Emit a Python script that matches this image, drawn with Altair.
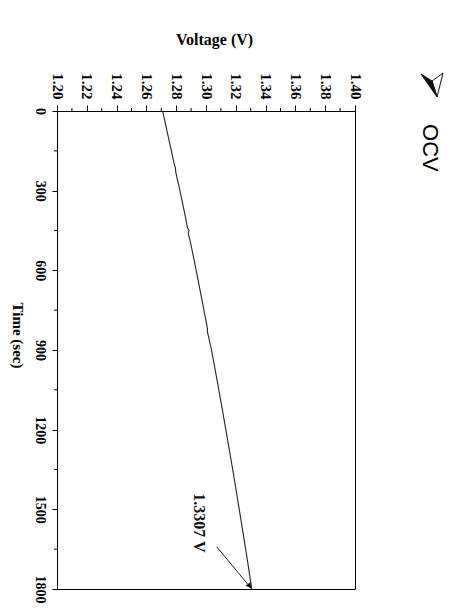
import altair as alt
import pandas as pd

# ---- data ----
time_s = [0, 100, 200, 215, 230, 300, 400, 440, 450, 460, 500, 600, 700, 800,
          820, 830, 900, 1000, 1100, 1200, 1300, 1400, 1500, 1600, 1700, 1800]
voltage_v = [1.2709, 1.2748, 1.2787, 1.2795, 1.2797, 1.2825, 1.2862, 1.2876,
             1.2886, 1.2881, 1.2898, 1.2934, 1.2969, 1.3003, 1.3010, 1.3009,
             1.3037, 1.3070, 1.3102, 1.3133, 1.3164, 1.3194, 1.3223, 1.3252,
             1.3280, 1.3307]

volt_ticks = [1.20, 1.22, 1.24, 1.26, 1.28, 1.30, 1.32, 1.34, 1.36, 1.38, 1.40]
volt_minor = [1.21, 1.23, 1.25, 1.27, 1.29, 1.31, 1.33, 1.35, 1.37, 1.39]
time_ticks = [0, 300, 600, 900, 1200, 1500, 1800]
time_minor = [150, 450, 750, 1050, 1350, 1650]

ann_label = ["1.3307 V"]
ann_label_voltage = [1.2953]
ann_label_time = [1551]
arrow_voltage = [1.3072]
arrow_time = [1641]
arrow_voltage_end = [1.3307]
arrow_time_end = [1800]
head_voltage = [1.3293]
head_time = [1789]

marker_voltage = [1.4517]
marker_time = [-96]
ocv_text = ["OCV"]
ocv_voltage = [1.4503]
ocv_time = [139]

SERIF = "Liberation Serif"

df = pd.DataFrame({"time": time_s, "voltage": voltage_v})
vminor_df = pd.DataFrame({"voltage": volt_minor})
tminor_df = pd.DataFrame({"time": time_minor})
label_df = pd.DataFrame({"label": ann_label, "voltage": ann_label_voltage, "time": ann_label_time})
arrow_df = pd.DataFrame({"voltage": arrow_voltage, "time": arrow_time,
                         "voltage2": arrow_voltage_end, "time2": arrow_time_end})
head_df = pd.DataFrame({"voltage": head_voltage, "time": head_time})
marker_df = pd.DataFrame({"voltage": marker_voltage, "time": marker_time})
ocv_df = pd.DataFrame({"label": ocv_text, "voltage": ocv_voltage, "time": ocv_time})

xscale = alt.Scale(domain=[1.2, 1.4], nice=False, zero=False)
yscale = alt.Scale(domain=[0, 1800], reverse=True, nice=False, zero=False)

x_axis = alt.Axis(
    orient="top", values=volt_ticks, format=".2f", grid=False,
    labelAngle=90, labelAlign="right", labelBaseline="middle",
    labelPadding=6, tickSize=6, labelFont=SERIF, labelFontWeight="bold",
    labelFontSize=15, labelColor="black", labelOverlap=False, labelFlush=False,
    domainColor="black", tickColor="black",
    title="Voltage (V)", titleFont=SERIF, titleFontWeight="bold",
    titleFontSize=16, titleColor="black", titleAngle=0, titleX=157, titleY=-67,
    titleAlign="center", titleBaseline="alphabetic",
)
y_axis = alt.Axis(
    orient="left", values=time_ticks, format="d", grid=False,
    labelAngle=90, labelAlign="center", labelBaseline="top",
    labelPadding=6, tickSize=5, labelFont=SERIF, labelFontWeight="bold",
    labelFontSize=14, labelColor="black", labelOverlap=False, labelFlush=False,
    domainColor="black", tickColor="black",
    title="Time (sec)", titleFont=SERIF, titleFontWeight="bold",
    titleFontSize=15, titleColor="black", titleAngle=90, titleX=-40, titleY=224,
    titleAlign="center", titleBaseline="middle",
)

xs = alt.X("voltage:Q", scale=xscale, axis=x_axis)
ys = alt.Y("time:Q", scale=yscale, axis=y_axis)

line = alt.Chart(df).mark_line(color="#222222", strokeWidth=1.1).encode(
    x=xs, y=ys, order="time:Q"
)

vminor = alt.Chart(vminor_df).mark_rule(color="black", strokeWidth=1).encode(
    x=xs, y=alt.value(0), y2=alt.value(-3)
)
tminor = alt.Chart(tminor_df).mark_rule(color="black", strokeWidth=1).encode(
    y=ys, x=alt.value(0), x2=alt.value(-3)
)

arrow = alt.Chart(arrow_df).mark_rule(color="#222222", strokeWidth=1).encode(
    x=xs, y=ys, x2="voltage2:Q", y2="time2:Q"
)
head = alt.Chart(head_df).mark_point(
    shape="triangle-up", filled=True, color="#111111", size=40, angle=143, opacity=1
).encode(x=xs, y=ys)

label = alt.Chart(label_df).mark_text(
    angle=90, align="center", baseline="middle", font=SERIF, fontWeight="bold",
    fontSize=16, color="#111111"
).encode(x=xs, y=ys, text="label:N")

# bullet arrowhead (pointing down), dark half + light half
marker_dark = alt.Chart(marker_df).mark_point(
    shape="M -0.88 -0.92 L 0 -0.36 L 0.4 0.92 Z", filled=True, fill="#111111",
    stroke="#111111", strokeWidth=1, size=625, opacity=1
).encode(x=xs, y=ys)
marker_light = alt.Chart(marker_df).mark_point(
    shape="M 0 -0.36 L 0.88 -1 L 0.4 0.92 Z", filled=True, fill="white",
    stroke="#111111", strokeWidth=1, size=625, opacity=1
).encode(x=xs, y=ys)

ocv = alt.Chart(ocv_df).mark_text(
    angle=90, align="center", baseline="middle", font="Liberation Sans",
    fontSize=22, color="black"
).encode(x=xs, y=ys, text="label:N")

chart = alt.layer(line, vminor, tminor, arrow, head, label,
                  marker_light, marker_dark, ocv).properties(
    width=298, height=478,
    autosize=alt.AutoSizeParams(type="none"),
    padding={"left": 49, "top": 103, "right": 93, "bottom": 15},
    background="white",
).configure_view(stroke="black", strokeWidth=1).configure_axis(labelOverlap=False)

chart.save("out.html", embed_options={"renderer": "svg", "actions": False})
